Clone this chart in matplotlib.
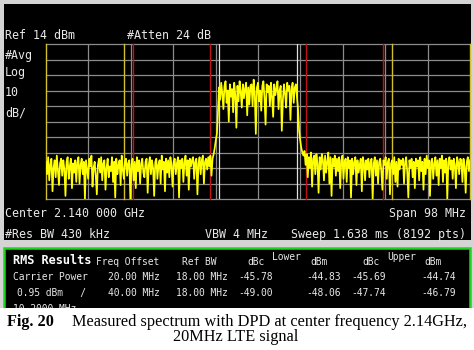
import numpy as np
import matplotlib
matplotlib.use("Agg")
import matplotlib.pyplot as plt
from matplotlib.patches import Rectangle

W, H = 474, 350
plt.rcParams['font.family'] = 'DejaVu Sans Mono'

# analyzer settings
span_mhz = 98.0
ref_dbm = 14.0
db_per_div = 10.0
chan_bw = 18.0            # integration bandwidth, MHz
offsets = [20.0, 40.0]    # adjacent channel offsets, MHz

# averaged trace in dBm, 0.25 MHz steps from -49 to +49 MHz
noise_lower = [
    -62, -70, -59, -74, -64, -60, -81, -66, -61, -72, -58, -68, -77, -63, -60,
    -71, -61, -67, -84, -62, -59, -73, -65, -60, -79, -63, -69, -61, -75, -62,
    -59, -76, -64, -60, -70, -62, -86, -61, -67, -73, -60, -65, -58, -78, -66,
    -62, -71, -83, -64, -60, -69, -59, -74, -63, -61, -80, -66, -60, -72, -65,
    -68, -59, -75, -62, -85, -60, -70, -64, -61, -77, -58, -67, -73, -62, -60,
    -71, -63, -61, -86, -64, -60, -74, -62, -79, -59, -68, -61, -76, -63, -60,
    -69, -72, -62, -60, -82, -64, -59, -70, -61, -66, -84, -62, -60, -73, -64,
    -61, -76, -58, -67, -62, -81, -60, -69, -61, -72, -59, -64, -78, -62, -60,
    -70, -63, -59, -85, -61, -66, -60, -75, -62, -58, -71, -61, -80, -60, -65,
    -61, -59, -73, -62, -60, -83, -63, -59, -70, -61, -58, -76, -62, -60, -67,
    -59, -65, -58, -71, -60,
]
edge_lower = [-57, -53, -48, -44, -30]
channel = [
    -14, -22, -11, -18, -28, -13, -10, -24, -16, -36, -12, -20, -15, -30, -11,
    -19, -40, -13, -23, -10, -17, -27, -12, -21, -15, -11, -32, -14, -25, -13,
    -12, -26, -9, -18, -44, -14, -11, -23, -16, -29, -13, -10, -21, -38, -12,
    -17, -13, -26, -11, -20, -33, -12, -19, -15, -10, -28, -16, -13, -42, -22,
    -12, -18, -27, -11, -16, -13, -35, -15, -11, -24, -14, -12, -20,
]
edge_upper = [-28, -42, -48, -53, -56, -58]
noise_upper = [
    -55, -64, -57, -72, -59, -66, -56, -78, -60, -58, -70, -57, -63, -82, -59,
    -67, -57, -61, -74, -58, -69, -62, -56, -76, -59, -84, -60, -65, -58, -71,
    -60, -68, -59, -79, -61, -58, -73, -62, -60, -75, -59, -66, -61, -85, -60,
    -70, -62, -59, -77, -61, -69, -64, -60, -81, -59, -63, -74, -61, -67, -60,
    -72, -62, -60, -86, -63, -59, -71, -61, -76, -62, -60, -68, -80, -61, -64,
    -59, -73, -62, -60, -83, -63, -61, -70, -59, -75, -62, -78, -60, -67, -61,
    -64, -60, -76, -62, -59, -69, -85, -61, -66, -60, -72, -62, -79, -60, -65,
    -61, -74, -59, -68, -62, -80, -60, -70, -58, -66, -61, -84, -62, -60, -73,
    -63, -59, -71, -61, -77, -60, -66, -58, -75, -61, -69, -60, -86, -62, -59,
    -67, -61, -73, -60, -64, -79, -59, -62, -70, -60, -61, -75, -60, -65, -82,
    -62, -59, -68, -61,
]

# RMS results table
freq_offset = ["20.00 MHz", "40.00 MHz"]
ref_bw = ["18.00 MHz", "18.00 MHz"]
lower_dbc = [-45.78, -49.00]
lower_dbm = [-44.83, -48.06]
upper_dbc = [-45.69, -47.74]
upper_dbm = [-44.74, -46.79]

trace = np.array(noise_lower + edge_lower + channel + edge_upper + noise_upper, float)
freq = np.linspace(-span_mhz / 2, span_mhz / 2, len(trace))

fig = plt.figure(figsize=(W / 100, H / 100), dpi=100)
fig.patch.set_facecolor('white')

# pixel-space layer for the instrument frame, labels and caption
bg = fig.add_axes([0, 0, 1, 1])
bg.set_xlim(0, W)
bg.set_ylim(H, 0)
bg.axis('off')
bg.add_patch(Rectangle((0, 0), W, 308, color='#d4d4d4', lw=0))
bg.add_patch(Rectangle((4, 4), 467, 236, color='black', lw=0))
bg.add_patch(Rectangle((4.5, 247.5), 466, 70, facecolor='black',
                       edgecolor='#1fd41f', lw=1.8))
bg.add_patch(Rectangle((0, 308), W, H - 308, color='white', lw=0, zorder=5))

fg = '#e8e8e8'
def lcd(x, y, s, size=8.4, ha='left', **kw):
    bg.text(x, y, s, color=fg, fontsize=size, ha=ha, va='baseline', **kw)

lcd(5, 39, "Ref 14 dBm")
lcd(127, 39, "#Atten 24 dB")
lcd(5, 59, "#Avg")
lcd(5, 76, "Log")
lcd(5, 96, "10")
lcd(5, 117, "dB/")
lcd(5, 217, "Center 2.140 000 GHz")
lcd(466, 217, "Span 98 MHz", ha='right')
lcd(5, 238, "#Res BW 430 kHz")
lcd(205, 238, "VBW 4 MHz")
lcd(466, 238, "Sweep 1.638 ms (8192 pts)", ha='right')

# table
ts = 6.9
bg.text(13, 264, "RMS Results", color='white', fontsize=8.6, fontweight='bold',
        va='baseline')
lcd(96, 265, "Freq Offset", ts)
lcd(182, 265, "Ref BW", ts)
lcd(247, 265, "dBc", ts)
lcd(272, 260, "Lower", ts)
lcd(310, 265, "dBm", ts)
lcd(362, 265, "dBc", ts)
lcd(387, 260, "Upper", ts)
lcd(424, 265, "dBm", ts)
lcd(13, 280, "Carrier Power", ts)
lcd(17, 296, "0.95 dBm   /", ts)
lcd(13, 312, "10.2000 MHz", ts)
for i, yb in enumerate([280, 296]):
    lcd(160, yb, freq_offset[i], ts, ha='right')
    lcd(228, yb, ref_bw[i], ts, ha='right')
    lcd(273, yb, f"{lower_dbc[i]:.2f}", ts, ha='right')
    lcd(341, yb, f"{lower_dbm[i]:.2f}", ts, ha='right')
    lcd(386, yb, f"{upper_dbc[i]:.2f}", ts, ha='right')
    lcd(456, yb, f"{upper_dbm[i]:.2f}", ts, ha='right')

# caption
cap = dict(family='Liberation Serif', fontsize=11.7, va='baseline', color='black', zorder=6)
bg.text(7, 326, "Fig. 20", fontweight='bold', **cap)
bg.text(72, 326, "Measured spectrum with DPD at center frequency 2.14GHz,", **cap)
bg.text(236, 341, "20MHz LTE signal", ha='center', **cap)

# spectrum graticule
ax = fig.add_axes([46 / W, 1 - 199 / H, 424 / W, 155 / H])
ax.set_facecolor('black')
ax.set_xlim(-span_mhz / 2, span_mhz / 2)
ax.set_ylim(ref_dbm - 10 * db_per_div, ref_dbm)
for s in ax.spines.values():
    s.set_visible(False)
ax.set_xticks([])
ax.set_yticks([])
for k in range(11):
    ax.axhline(ref_dbm - k * db_per_div, color='#8c8c8c', lw=0.9, clip_on=False)
for k in range(1, 10):
    ax.axvline(-span_mhz / 2 + k * span_mhz / 10, color='#8c8c8c', lw=0.9)

# integration bandwidth markers
ax.axvline(-chan_bw / 2, color='#e0e0e0', lw=0.9)
ax.axvline(chan_bw / 2, color='#e0e0e0', lw=0.9)
for off, col in zip(offsets, ['#c01414', '#d2bf30']):
    for sgn in (-1, 1):
        ax.axvline(sgn * (off - chan_bw / 2), color=col, lw=1.0, clip_on=False)
        ax.axvline(sgn * (off + chan_bw / 2), color=col, lw=1.0, clip_on=False)

ax.plot(freq, trace, color='#ffff00', lw=1.25, zorder=3)

fig.savefig('out.png', dpi=100, facecolor=fig.get_facecolor())
